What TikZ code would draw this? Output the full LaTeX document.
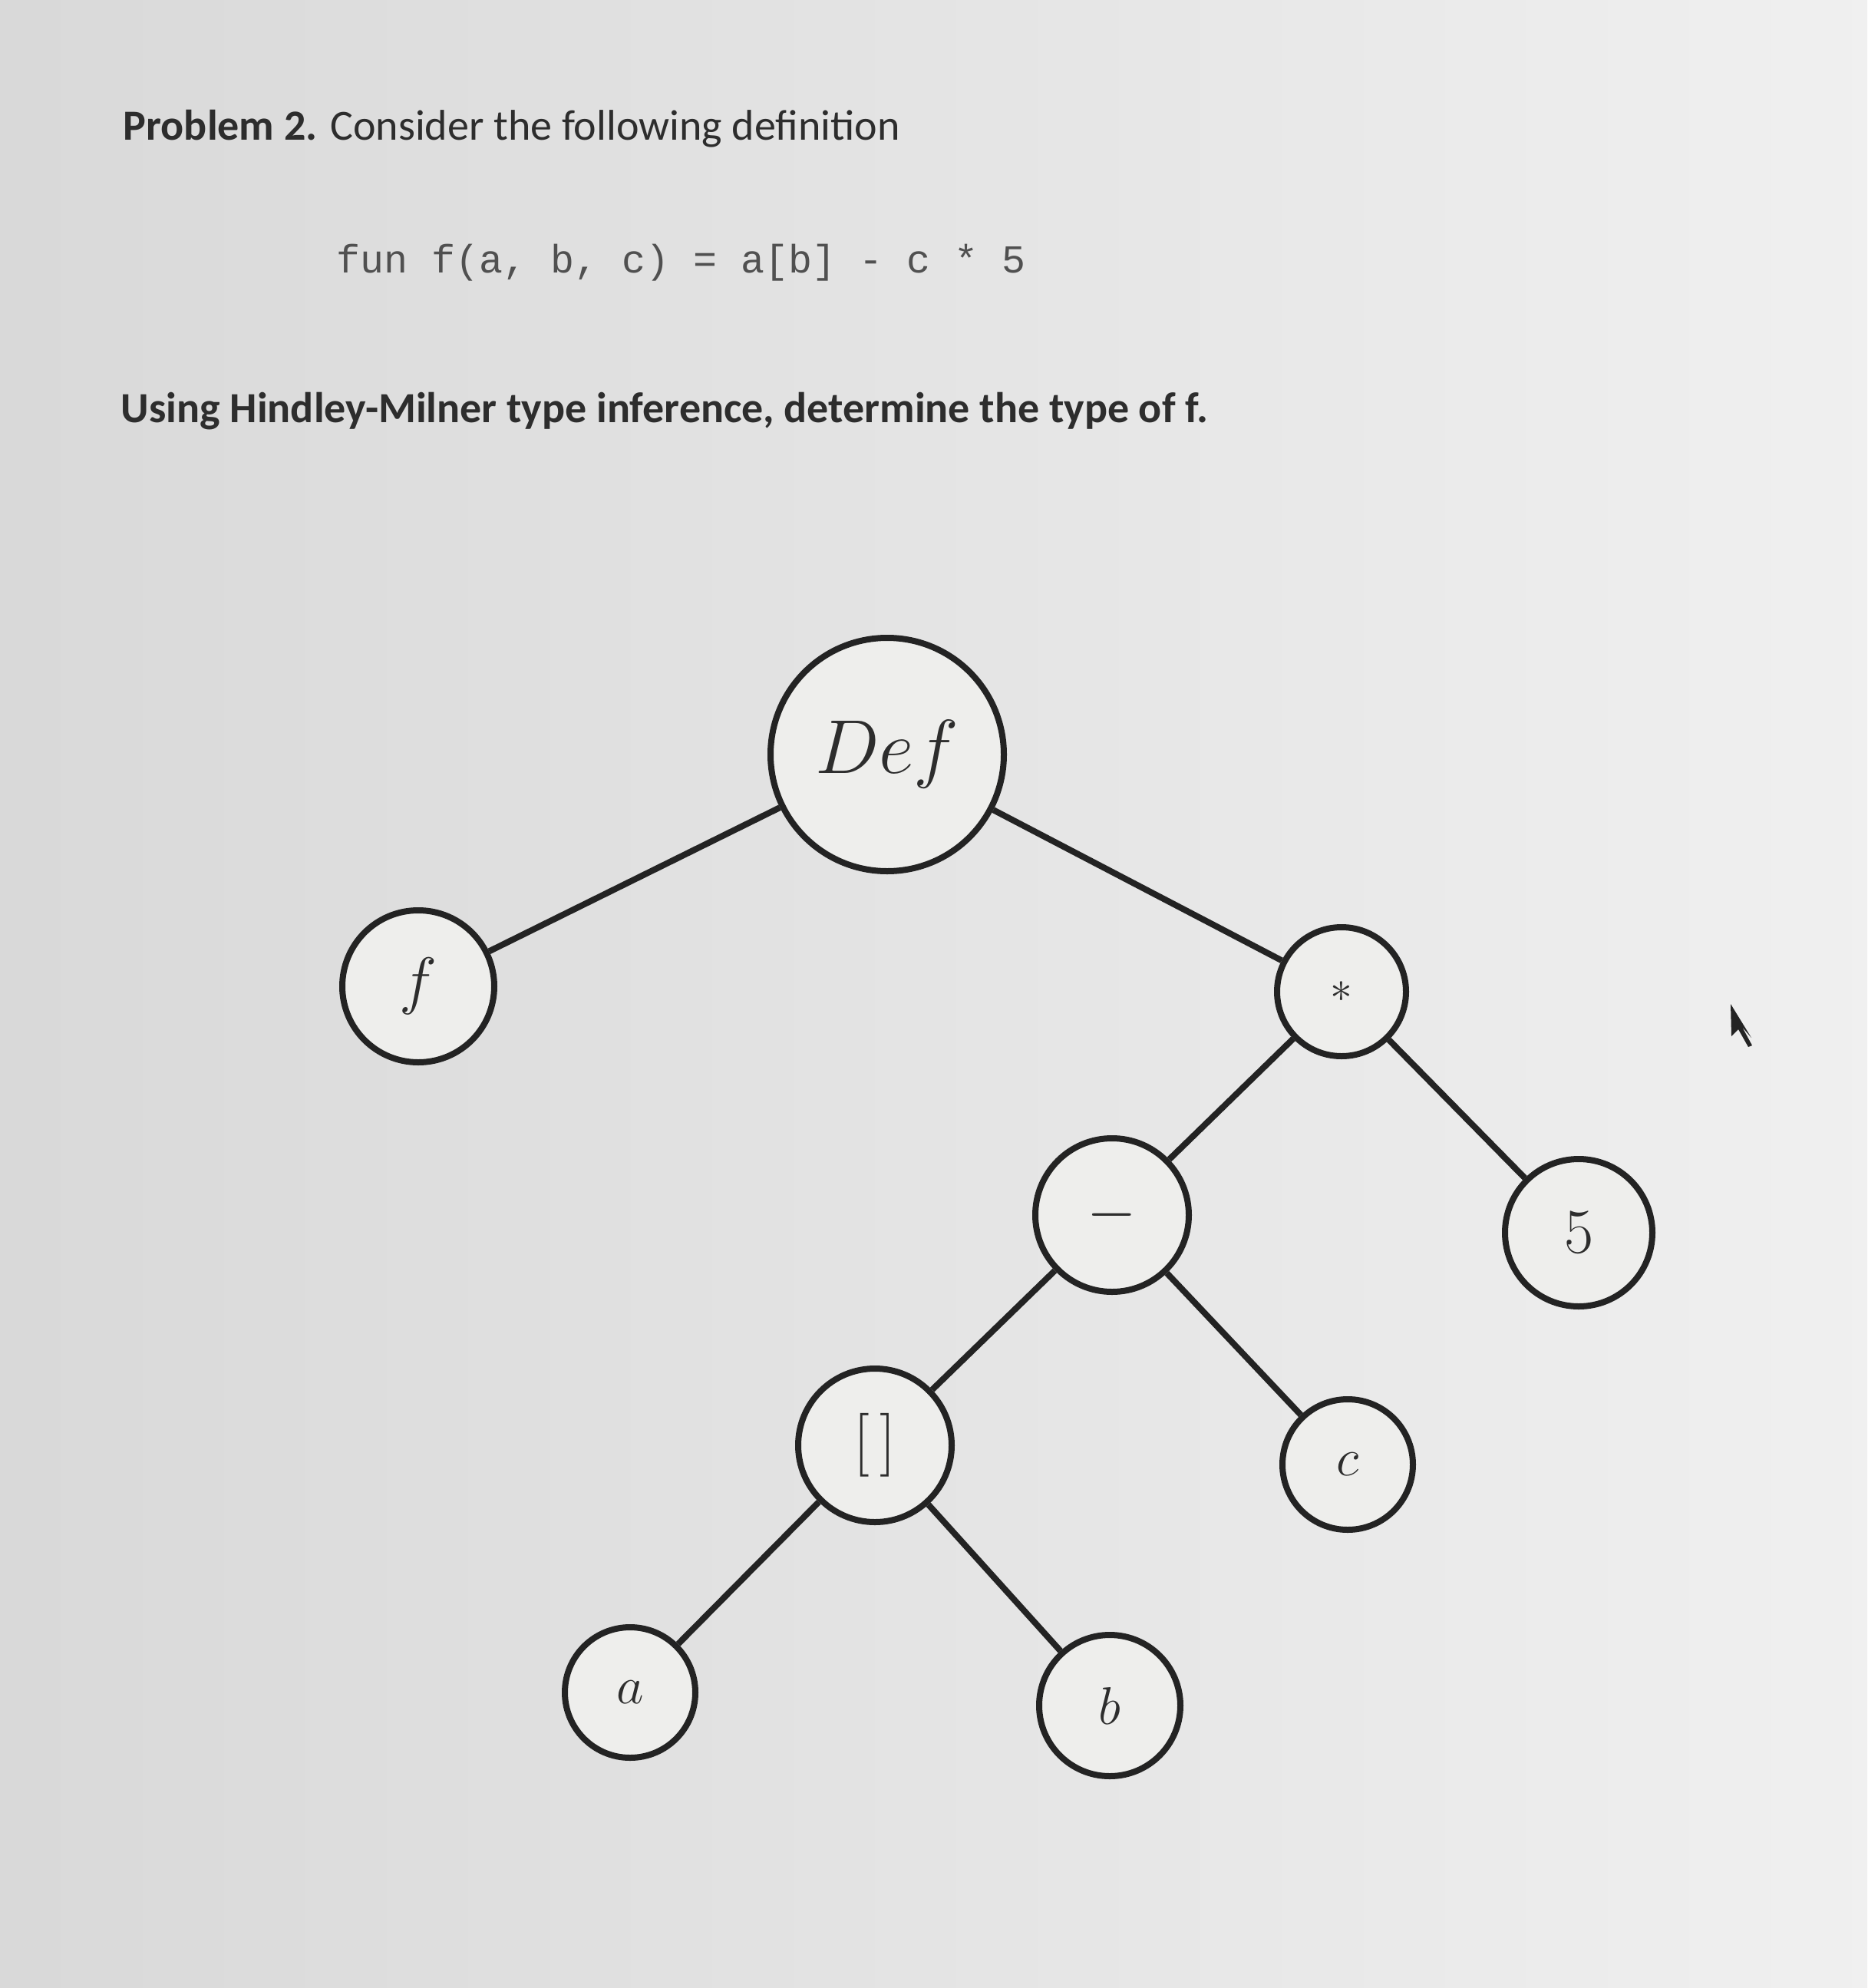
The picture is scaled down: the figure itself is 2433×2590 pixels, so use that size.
\documentclass[tikz,border=0pt]{standalone}
\usepackage{fontspec}
\setmainfont{Carlito}
\setmonofont{Liberation Mono}
\definecolor{ink}{RGB}{45,45,45}
\definecolor{codeink}{RGB}{80,80,80}
\definecolor{edgeink}{RGB}{35,35,35}
\definecolor{nodefill}{RGB}{238,238,236}
\begin{document}
\begin{tikzpicture}[x=0.25pt,y=-0.25pt,
  tnode/.style={circle,draw=edgeink,line width=2pt,fill=nodefill,inner sep=0pt,text=ink},
  tedge/.style={draw=edgeink,line width=2pt},
  para/.style={anchor=base west,inner sep=0pt,text=ink,font=\fontsize{14pt}{17pt}\selectfont},
  code/.style={anchor=base west,inner sep=0pt,text=codeink,font=\fontsize{12.9pt}{16pt}\selectfont\ttfamily}]
\shade[left color=black!15,right color=black!6] (0,0) rectangle (2433,2590);
\useasboundingbox (0,0) rectangle (2433,2590);

\node[para] (t1) at (160,183) {\textbf{Problem 2.} Consider the following definition};
\node[code] (t2) at (438,355) {fun f(a, b, c) = a[b] - c * 5};
\node[para,font=\fontsize{14pt}{17pt}\selectfont\bfseries] (t3) at (157,550) {Using Hindley-Milner type inference, determine the type of f.};

\node[tnode,minimum size=76pt,font=\fontsize{26pt}{30pt}\selectfont] (def) at (1156,983) {$Def$};
\node[tnode,minimum size=49.5pt,font=\fontsize{20pt}{24pt}\selectfont] (f) at (545,1285) {$f$};
\node[tnode,minimum size=42pt,font=\fontsize{14pt}{18pt}\selectfont] (mul) at (1748,1292) {$\ast$};
\node[tnode,minimum size=50pt,font=\fontsize{22pt}{26pt}\selectfont] (sub) at (1449,1583) {$-$};
\node[tnode,minimum size=48pt,font=\fontsize{22pt}{26pt}\selectfont] (five) at (2057,1606) {$5$};
\node[tnode,minimum size=50pt,font=\fontsize{22pt}{26pt}\selectfont] (idx) at (1140,1883) {$[\,]$};
\node[tnode,minimum size=42.5pt,font=\fontsize{19pt}{23pt}\selectfont] (c) at (1756,1908) {$c$};
\node[tnode,minimum size=42.5pt,font=\fontsize{19pt}{23pt}\selectfont] (a) at (821,2205) {$a$};
\node[tnode,minimum size=46pt,font=\fontsize{19pt}{23pt}\selectfont] (b) at (1446,2222) {$b$};

\draw[tedge] (def) -- (f);
\draw[tedge] (def) -- (mul);
\draw[tedge] (mul) -- (sub);
\draw[tedge] (mul) -- (five);
\draw[tedge] (sub) -- (idx);
\draw[tedge] (sub) -- (c);
\draw[tedge] (idx) -- (a);
\draw[tedge] (idx) -- (b);

% mouse pointer in the photo
\fill[edgeink] (2255,1308) -- (2282,1352) -- (2270,1338) -- (2283,1362) -- (2278,1364) -- (2265,1341) -- (2256,1350) -- cycle;
\end{tikzpicture}
\end{document}
